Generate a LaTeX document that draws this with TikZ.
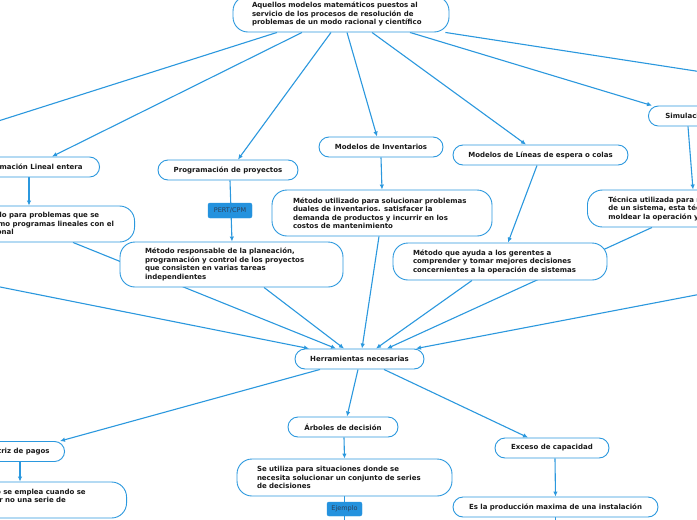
\documentclass[tikz,border=0pt]{standalone}
\usepackage{fontspec}
\setmainfont{DejaVu Sans}
\usetikzlibrary{arrows.meta,calc}
\definecolor{lnblue}{RGB}{43,152,222}
\definecolor{tagblue}{RGB}{36,146,222}
\definecolor{tagtext}{RGB}{45,65,90}
\definecolor{txt}{RGB}{25,25,25}
\pgfdeclarelayer{back}
\pgfdeclarelayer{bg}
\pgfsetlayers{back,bg,main}
\begin{document}
\begin{tikzpicture}[x=1pt,y=-1pt,
  box/.style={draw=lnblue, line width=0.9pt, fill=white, font=\bfseries\fontsize{7}{8.5}\selectfont, text=txt, inner ysep=0pt},
  pill/.style={box, rounded corners=10pt, minimum height=20pt, inner xsep=12pt},
  para/.style={box, rounded corners=15pt, align=left},
  tag/.style={fill=tagblue, draw=tagblue, rounded corners=2pt, font=\fontsize{6.5}{7.5}\selectfont, text=tagtext, minimum height=15pt, inner sep=1pt},
  con/.style={draw=lnblue, line width=1.1pt},
  arr/.style={con, -{Latex[length=5pt,width=4.5pt]}},
]
\useasboundingbox (0,0) rectangle (697,520);
\begin{pgfonlayer}{back}
\fill[white] (0,0) rectangle (697,520);
\end{pgfonlayer}
\clip (0,0) rectangle (697,520);

% top
\node[para, minimum height=36pt, inner xsep=19pt, text width=178pt] (root) at (341,14)
  {Aquellos modelos matemáticos puestos al\\servicio de los procesos de resolución de\\problemas de un modo racional y científico};

% Programacion lineal entera
\node[pill, anchor=east, inner xsep=17pt] (plin) at (100,167) {Programación Lineal entera};
\node[para, anchor=east, minimum height=36pt, inner xsep=20pt, text width=174pt] (plind) at (135,224)
  {Método utilizado para problemas que se\\estructuran como programas lineales con el\\requisito adicional};

% Programacion de proyectos
\node[pill, minimum width=140pt] (proy) at (228,170) {Programación de proyectos};
\node[para, minimum height=45pt, inner xsep=25pt, text width=173pt] (mresp) at (231.5,264.5)
  {Método responsable de la planeación,\\programación y control de los proyectos\\que consisten en varias tareas\\independientes};
\node[tag, minimum width=44pt] (pert) at (230,210.5) {PERT/CPM};

% Inventarios
\node[pill, minimum width=124pt] (inv) at (381,147) {Modelos de Inventarios};
\node[para, minimum height=46pt, inner xsep=21pt, text width=178pt] (invd) at (382,213)
  {Método utilizado para solucionar problemas\\duales de inventarios. satisfacer la\\demanda de productos y incurrir en los\\costos de mantenimiento};

% Lineas de espera
\node[pill, minimum width=175pt] (lin) at (540.5,155) {Modelos de Líneas de espera o colas};
\node[para, minimum height=37pt, inner xsep=20pt, text width=174pt] (lind) at (500,261.5)
  {Método que ayuda a los gerentes a\\comprender y tomar mejores decisiones\\concernientes a la operación de sistemas};

% Simulacion
\node[pill, anchor=west, inner xsep=17pt] (sim) at (648,116) {Simulación};
\node[para, anchor=west, minimum height=37pt, inner xsep=21pt, text width=220pt] (simd) at (587,208.5)
  {Técnica utilizada para modelar el comportamiento\\de un sistema, esta técnica permite\\moldear la operación y analizar su desempeño};

% Herramientas
\node[pill, minimum width=129pt] (herr) at (359.5,359) {Herramientas necesarias};

\node[pill, anchor=east, inner xsep=15pt] (mat) at (65,451.5) {Matriz de pagos};
\node[para, anchor=east, minimum height=36pt, inner xsep=20pt, text width=155pt] (matd) at (127,500)
  {Este método se emplea cuando se\\quiere tomar no una serie de\\decisiones};

\node[pill, minimum width=110pt] (arb) at (343,427) {Árboles de decisión};
\node[para, minimum height=37pt, inner xsep=20pt, text width=175pt] (arbd) at (344.5,477.5)
  {Se utiliza para situaciones donde se\\necesita solucionar un conjunto de series\\de decisiones};
\node[tag, minimum width=35pt, minimum height=14pt] (ej) at (344.5,509) {Ejemplo};

\node[pill, minimum width=114pt] (exc) at (552,448) {Exceso de capacidad};
\node[pill, minimum width=205pt] (excd) at (555.5,507) {Es la producción maxima de una instalación};

% free ends
\coordinate (offL1) at (-30,130);
\coordinate (offR1) at (730,76.3);
\coordinate (offL2) at (-30,281);
\coordinate (offR2) at (730,288.5);
\coordinate (ejEnd) at (344.5,530);
\coordinate (excEnd) at (555.5,530);

\begin{pgfonlayer}{bg}
\draw[con] ([xshift=-64pt]root.south) -- (offL1);
\draw[arr] ([xshift=-39pt]root.south) -- ([xshift=-48pt]plin.north east);
\draw[arr] ([xshift=-10pt]root.south) -- ([xshift=10pt]proy.north);
\draw[arr] ([xshift=6pt]root.south) -- ([xshift=-4pt]inv.north);
\draw[arr] ([xshift=31pt]root.south) -- ([xshift=-14.5pt]lin.north);
\draw[arr] ([xshift=69pt]root.south) -- ([xshift=4pt]sim.north west);
\draw[con] ([xshift=-4pt]root.south east) -- (offR1);

\draw[arr] ([xshift=-71pt]plin.south east) -- ([xshift=-106pt]plind.north east);
\draw[arr] ([xshift=2pt]proy.south) -- ([xshift=0.5pt]mresp.north);
\draw[arr] (inv.south) -- (invd.north);
\draw[arr] ([xshift=-3.5pt]lin.south) -- ([xshift=8pt]lind.north);
\draw[arr] ([xshift=40pt]sim.south west) -- ([xshift=106pt]simd.north west);

\draw[arr] (offL2) -- ([xshift=-50.5pt]herr.north);
\draw[arr] ([xshift=-62pt]plind.south east) -- ([xshift=-23.5pt]herr.north);
\draw[arr] ([xshift=32.5pt]mresp.south) -- ([xshift=-15.5pt]herr.north);
\draw[arr] ([xshift=-3pt]invd.south) -- ([xshift=2.5pt]herr.north);
\draw[arr] ([xshift=-28pt]lind.south) -- ([xshift=16.5pt]herr.north);
\draw[arr] ([xshift=65pt]simd.south west) -- ([xshift=27.5pt]herr.north);
\draw[arr] (offR2) -- ([xshift=56.5pt]herr.north);

\draw[arr] ([xshift=-39.5pt]herr.south) -- ([xshift=-5pt]mat.north east);
\draw[arr] ([xshift=-1.5pt]herr.south) -- ([xshift=4pt]arb.north);
\draw[arr] ([xshift=24.5pt]herr.south) -- ([xshift=-24pt]exc.north);

\draw[arr] ([xshift=-45pt]mat.south east) -- ([xshift=-107pt]matd.north east);
\draw[arr] ([xshift=1pt]arb.south) -- (arbd.north);
\draw[con] (arbd.south) -- (ejEnd);
\draw[arr] ([xshift=3pt]exc.south) -- (excd.north);
\draw[con] (excd.south) -- (excEnd);
\end{pgfonlayer}
\end{tikzpicture}
\end{document}
